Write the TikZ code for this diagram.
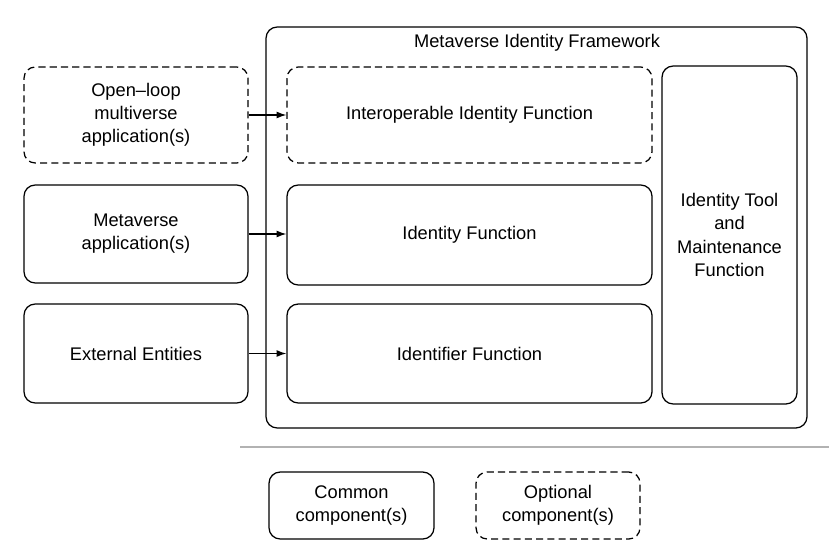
\documentclass[tikz,border=0pt]{standalone}
\usepackage{fontspec}
\setmainfont{Liberation Sans}
\usetikzlibrary{arrows.meta}
\begin{document}
\begin{tikzpicture}[x=0.025cm,y=-0.025cm,
  box/.style={draw,rounded corners=8pt,line width=0.9pt,align=center,inner sep=0pt},
  opt/.style={box,dashed,dash pattern=on 5pt off 3pt},
  arr/.style={-{Latex[length=7pt,width=5pt]},line width=0.9pt},
  every node/.style={font=\fontsize{13}{16.5}\selectfont}]
\useasboundingbox (0,0) rectangle (829,552);
\node[box,minimum width=541*0.025cm,minimum height=401*0.025cm] (fw) at (536.5,227.5) {};
\node (title) at (537,43) {Metaverse Identity Framework};
\node[opt,minimum width=224*0.025cm,minimum height=96*0.025cm] (a1) at (136,115) {Open–loop\\multiverse\\application(s)};
\node[box,minimum width=224*0.025cm,minimum height=98*0.025cm] (a2) at (136,234) {Metaverse\\application(s)};
\node[box,minimum width=224*0.025cm,minimum height=99*0.025cm] (a3) at (136,353.5) {External Entities};
\node[opt,minimum width=365*0.025cm,minimum height=96*0.025cm] (b1) at (469.5,115) {Interoperable Identity Function};
\node[box,minimum width=365*0.025cm,minimum height=100*0.025cm] (b2) at (469.5,235) {Identity Function};
\node[box,minimum width=365*0.025cm,minimum height=99*0.025cm] (b3) at (469.5,353.5) {Identifier Function};
\node[box,minimum width=135*0.025cm,minimum height=338*0.025cm] (c) at (729.5,235) {Identity Tool\\and\\Maintenance\\Function};
\draw[arr] (a1.east) -- (b1.west);
\draw[arr] (a2.east) -- (b2.west |- a2.east);
\draw[arr] (a3.east) -- (b3.west |- a3.east);
\coordinate (l1) at (240,447); \coordinate (l2) at (829,447);
\draw[gray!60,line width=1.2pt] (l1) -- (l2);
\node[box,minimum width=165*0.025cm,minimum height=67*0.025cm] (lc) at (351.5,505.5) {Common\\component(s)};
\node[opt,minimum width=164*0.025cm,minimum height=67*0.025cm] (lo) at (558,505.5) {Optional\\component(s)};
\end{tikzpicture}
\end{document}
